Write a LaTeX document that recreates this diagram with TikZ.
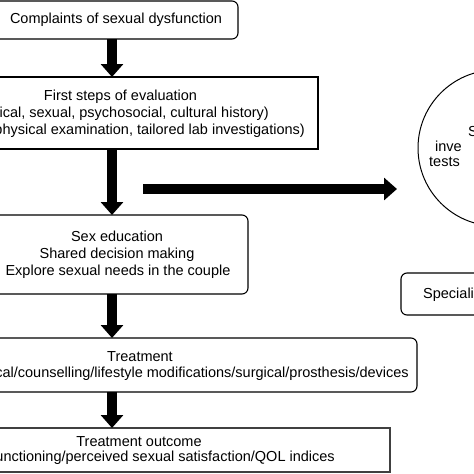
\documentclass[tikz,border=0pt]{standalone}
\usepackage{fontspec}
\setmainfont{Liberation Sans}
\usetikzlibrary{arrows.meta}
\begin{document}
\begin{tikzpicture}[x=1pt,y=-1pt,
  box/.style={draw=black,line width=1.1pt,inner sep=0pt},
  rbox/.style={box,rounded corners=6pt},
  txt/.style={inner sep=0pt,font=\fontsize{14.5pt}{17pt}\selectfont,anchor=base},
  txte/.style={txt,anchor=base east},
  txtw/.style={txt,anchor=base west},
  bigarrow/.style={line width=10pt,-{Triangle[length=13pt,width=22pt]}}]
\useasboundingbox (0,0) rectangle (474,474);
\clip (0,0) rectangle (474,474);
\fill[white] (0,0) rectangle (474,474);
% boxes
\draw[rbox] (-20,1) rectangle (238,39);
\coordinate (b1s) at (112,39);
\draw[box] (-20,77) rectangle (318,149);
\coordinate (b2n) at (112,77);
\coordinate (b2s) at (112,149);
\draw[rbox] (-20,215) rectangle (248,294);
\coordinate (b3n) at (112,215);
\coordinate (b3s) at (112,294);
\draw[rbox] (-20,338) rectangle (417,392);
\coordinate (b4n) at (112,338);
\coordinate (b4s) at (112,392);
\draw[box,draw=black!75,line width=1.6pt] (-20,428) rectangle (390,472);
\coordinate (b5n) at (112,428);
\node[draw=black,line width=1pt,circle,minimum size=156pt,inner sep=0pt] (circ) at (496,148) {};
\draw[rbox] (401,273) rectangle (520,315);
% texts
\node[txt] (t1) at (116,23) {Complaints of sexual dysfunction};
\node[txt] (t2a) at (120.5,100) {First steps of evaluation};
\node[txte] (t2b) at (269,117) {lical, sexual, psychosocial, cultural history)};
\node[txte] (t2c) at (305,134) {physical examination, tailored lab investigations)};
\node[txt] (t3a) at (117,241) {Sex education};
\node[txt] (t3b) at (117,258) {Shared decision making};
\node[txt] (t3c) at (118,275) {Explore sexual needs in the couple};
\node[txt] (t4a) at (140,361) {Treatment};
\node[txte] (t4b) at (409,377) {cal/counselling/lifestyle modifications/surgical/prosthesis/devices};
\node[txt] (t5a) at (139,446) {Treatment outcome};
\node[txte] (t5b) at (335,461) {unctioning/perceived sexual satisfaction/QOL indices};
\node[txtw] (t6) at (423,298) {Speciali};
\node[txtw] (c1) at (468,136) {S};
\node[txtw] (c2) at (435,151) {inve};
\node[txtw] (c3) at (429,166) {tests};
% arrows
\draw[bigarrow] (b1s) -- (b2n);
\draw[bigarrow] (b2s) -- (b3n);
\draw[bigarrow] (b3s) -- (b4n);
\draw[bigarrow] (b4s) -- (b5n);
\coordinate (h0) at (143,189);
\coordinate (h1) at (397,189);
\draw[bigarrow] (h0) -- (h1);
\end{tikzpicture}
\end{document}
